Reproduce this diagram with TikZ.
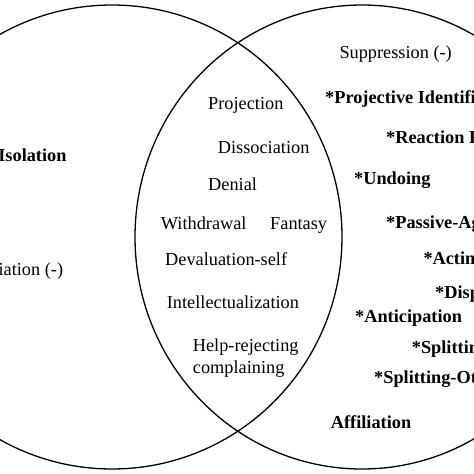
\documentclass[tikz,border=0pt]{standalone}
\usepackage{fontspec}
\setmainfont{Liberation Serif}
\begin{document}
\begin{tikzpicture}[x=1pt,y=-1pt,
  lbl/.style={inner sep=0pt,font=\fontsize{18.3}{22}\selectfont,anchor=base west},
  blbl/.style={lbl,font=\fontsize{18.3}{22}\selectfont\bfseries},
  venn/.style={line width=1.3pt,black}]
\useasboundingbox (0,0) rectangle (474,474);
\fill[white] (0,0) rectangle (474,474);
\clip (0,0) rectangle (474,474);
% circles
\draw[venn] (112,237) ellipse [x radius=230pt, y radius=232pt];
\draw[venn] (362,237) ellipse [x radius=227pt, y radius=232pt];
% left only
\node[blbl,anchor=base east] (iso) at (66.7,161) {Isolation};
\node[lbl,anchor=base east] (aff1) at (63.3,275) {iation (-)};
% overlap
\node[lbl] (proj) at (208,109) {Projection};
\node[lbl] (diss) at (217.7,153) {Dissociation};
\node[lbl] (den) at (208,190) {Denial};
\node[lbl] (with) at (160.7,229) {Withdrawal};
\node[lbl] (fan) at (270,229) {Fantasy};
\node[lbl] (dev) at (165,265) {Devaluation-self};
\node[lbl] (intel) at (166.7,308) {Intellectualization};
\node[lbl,align=left] (help) at (192.7,373) {Help-rejecting\\complaining};
% right only
\node[lbl] (sup) at (339.3,58) {Suppression (-)};
\node[blbl] (pid) at (325,103) {*Projective Identification};
\node[blbl] (rf) at (386,143) {*Reaction Formation};
\node[blbl] (und) at (354,184) {*Undoing};
\node[blbl] (pa) at (386,228) {*Passive-Aggression};
\node[blbl] (act) at (423.3,264) {*Acting-Out};
\node[blbl] (disp) at (435,298) {*Displacement};
\node[blbl] (ant) at (355,322) {*Anticipation};
\node[blbl] (spls) at (411.7,353) {*Splitting-Self};
\node[blbl] (splo) at (374,383) {*Splitting-Other};
\node[blbl] (affl) at (330.7,428) {Affiliation};
\end{tikzpicture}
\end{document}
